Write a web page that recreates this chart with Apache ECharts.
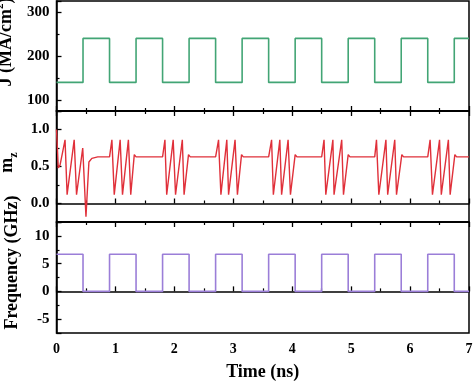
<!DOCTYPE html>
<html><head><meta charset="utf-8">
<script src="https://cdn.jsdelivr.net/npm/echarts@6/dist/echarts.min.js"></script>
<style>html,body{margin:0;padding:0;background:#fff}#c{width:474px;height:383px}</style>
</head><body><div id="c"></div>
<script>
// ---- data ----
const jTime  = [0, 0.45, 0.9, 1.35, 1.8, 2.25, 2.7, 3.15, 3.6, 4.05, 4.5, 4.95, 5.4, 5.85, 6.3, 6.75, 7.0];
const jValue = [140, 240, 140, 240, 140, 240, 140, 240, 140, 240, 140, 240, 140, 240, 140, 240, 240];
const freqTime  = [0, 0.45, 0.9, 1.35, 1.8, 2.25, 2.7, 3.15, 3.6, 4.05, 4.5, 4.95, 5.4, 5.85, 6.3, 6.75, 7.0];
const freqValue = [6.7, 0, 6.7, 0, 6.7, 0, 6.7, 0, 6.7, 0, 6.7, 0, 6.7, 0, 6.7, 0, 0];
const mzTime = [
  0.00, 0.015, 0.03, 0.06, 0.145, 0.18, 0.30, 0.34, 0.445, 0.50, 0.55, 0.60, 0.70, 0.90,
  0.94, 0.98, 1.08, 1.12, 1.22, 1.26, 1.32, 1.35, 1.80,
  1.84, 1.87, 1.98, 2.02, 2.135, 2.165, 2.24, 2.27, 2.70,
  2.75, 2.79, 2.89, 2.92, 3.03, 3.07, 3.14, 3.17, 3.60,
  3.65, 3.68, 3.79, 3.82, 3.93, 3.97, 4.05, 4.08, 4.50,
  4.54, 4.57, 4.69, 4.71, 4.84, 4.87, 4.95, 4.98, 5.40,
  5.43, 5.47, 5.59, 5.62, 5.74, 5.77, 5.86, 5.89, 6.30,
  6.34, 6.38, 6.50, 6.53, 6.65, 6.68, 6.76, 6.79, 7.00
];
const mzValue = [
  1.00, 0.75, 0.48, 0.52, 0.86, 0.12, 0.86, 0.12, 0.75, -0.18, 0.56, 0.61, 0.63, 0.63,
  0.86, 0.12, 0.86, 0.12, 0.86, 0.12, 0.66, 0.63, 0.63,
  0.86, 0.12, 0.86, 0.12, 0.86, 0.12, 0.66, 0.63, 0.63,
  0.86, 0.12, 0.86, 0.12, 0.86, 0.12, 0.66, 0.63, 0.63,
  0.86, 0.12, 0.86, 0.12, 0.86, 0.12, 0.66, 0.63, 0.63,
  0.86, 0.12, 0.86, 0.12, 0.86, 0.12, 0.66, 0.63, 0.63,
  0.86, 0.12, 0.86, 0.12, 0.86, 0.12, 0.66, 0.63, 0.63,
  0.86, 0.12, 0.86, 0.12, 0.86, 0.12, 0.66, 0.63, 0.63
];
const xRange = [0, 7];
const jRange = [75, 325];
const mzRange = [-0.25, 1.25];
const freqRange = [-7.5, 12.5];

// ---- chart ----
const FONT = 'Liberation Serif';
const zip = (a, b) => a.map((v, i) => [v, b[i]]);
const tickStyle = { show: true, inside: true, length: 5, lineStyle: { color: '#000', width: 1.3 } };
const minorStyle = { show: true, splitNumber: 2, length: 3, lineStyle: { color: '#000', width: 1.2 } };
const lineAx = { show: true, lineStyle: { color: '#000', width: 1.5 } };
const lbl = { color: '#000', fontFamily: FONT, fontWeight: 'bold', fontSize: 14 };
const ylbl = { color: '#000', fontFamily: FONT, fontWeight: 'bold', fontSize: 15 };

function xAx(grid, pos, opts) {
  return Object.assign({
    type: 'value', gridIndex: grid, position: pos, min: xRange[0], max: xRange[1], interval: 1,
    axisLine: lineAx, axisTick: tickStyle, minorTick: minorStyle,
    axisLabel: { show: false }, splitLine: { show: false }
  }, opts || {});
}
function yAx(grid, range, split, fmt, name, pad, rich) {
  return {
    type: 'value', gridIndex: grid, min: range[0], max: range[1], splitNumber: split,
    axisLine: lineAx, axisTick: tickStyle, minorTick: minorStyle,
    splitLine: { show: false },
    axisLabel: Object.assign({ margin: 7, showMinLabel: false, showMaxLabel: false, formatter: fmt }, ylbl),
    name: name, nameLocation: 'middle', nameGap: 35,
    nameTextStyle: { padding: pad, rich: rich }
  };
}
const nameFont = { fontFamily: FONT, fontWeight: 'bold', fontSize: 18, color: '#000' };
const gridBase = { left: 56.5, right: 5, show: true, borderColor: '#000', borderWidth: 1.5,
  containLabel: false, outerBoundsMode: 'none' };

const option = {
  animation: false,
  backgroundColor: '#fff',
  grid: [
    Object.assign({ top: 1, height: 110 }, gridBase),
    Object.assign({ top: 111, height: 111 }, gridBase),
    Object.assign({ top: 222, height: 111 }, gridBase)
  ],
  xAxis: [
    xAx(0, 'bottom'),
    xAx(1, 'bottom'),
    xAx(2, 'bottom', {
      axisLabel: Object.assign({ show: true, margin: 9 }, lbl),
      name: 'Time (ns)', nameLocation: 'middle', nameGap: 30,
      nameTextStyle: { fontFamily: FONT, fontWeight: 'bold', fontSize: 18, color: '#000' }
    }),
    xAx(1, 'top'),
    xAx(2, 'top')
  ],
  yAxis: [
    yAx(0, jRange, 3, v => String(v), '{a|J (MA/cm}{s|2}{a|)}', [0, 0, 0, 28], {
      a: Object.assign({ lineHeight: 20, verticalAlign: 'bottom' }, nameFont),
      s: { fontFamily: FONT, fontWeight: 'bold', fontSize: 11, color: '#000', lineHeight: 11, padding: [0, 0, 10, 0] }
    }),
    yAx(1, mzRange, 3, v => v.toFixed(1), '{a|m}{b|z}', [0, 0, 0, 8], {
      a: Object.assign({ lineHeight: 20, verticalAlign: 'top' }, nameFont),
      b: { fontFamily: FONT, fontWeight: 'bold', fontSize: 12, color: '#000', lineHeight: 12, padding: [11, 0, 0, 0] }
    }),
    yAx(2, freqRange, 4, v => String(v), '{a|Frequency (GHz)}', [0, 0, 0, 30], {
      a: nameFont
    })
  ],
  series: [
    { type: 'line', xAxisIndex: 0, yAxisIndex: 0, data: zip(jTime, jValue), step: 'end',
      showSymbol: false, lineStyle: { color: '#42a575', width: 1.6 } },
    { type: 'line', xAxisIndex: 1, yAxisIndex: 1, data: zip(mzTime, mzValue),
      showSymbol: false, lineStyle: { color: '#e0303a', width: 1.4 } },
    { type: 'line', xAxisIndex: 2, yAxisIndex: 2, data: zip(freqTime, freqValue), step: 'end',
      showSymbol: false, lineStyle: { color: '#9b7ed8', width: 1.6 } }
  ]
};
const chart = echarts.init(document.getElementById('c'), null, { renderer: 'canvas' });
chart.setOption(option);
</script>
</body></html>
